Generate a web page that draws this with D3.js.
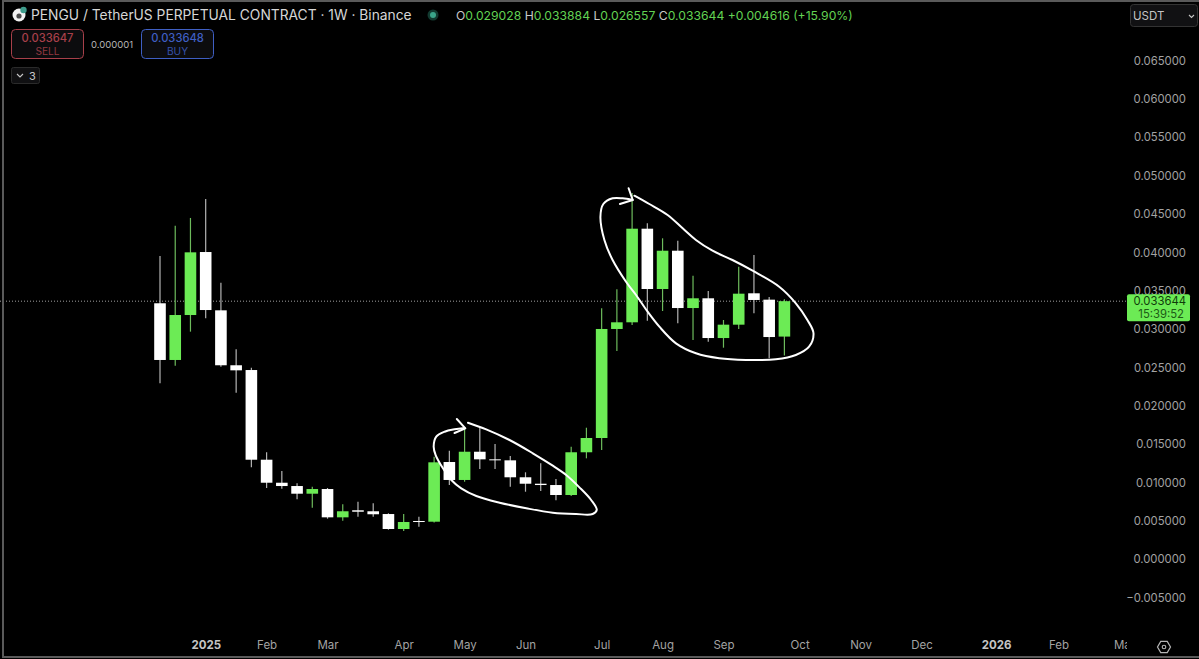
<!DOCTYPE html>
<html>
<head>
<meta charset="utf-8">
<script src="https://cdn.jsdelivr.net/npm/d3@7"></script>
<style>
  html, body { margin: 0; padding: 0; background: #000; overflow: hidden; }
  svg { display: block; font-family: Inter, "Noto Sans", sans-serif; }
</style>
</head>
<body>
<svg id="chart" width="1199" height="659"></svg>
<script>
// weekly candles
const candleOpen = [0.03337, 0.02598, 0.03184, 0.04005, 0.03245, 0.02529, 0.02467, 0.01298, 0.00998, 0.00955, 0.00855,
  0.00916, 0.00547, 0.00639, 0.00626, 0.0059, 0.00395, 0.00499, 0.0049, 0.01268, 0.01034, 0.01402, 0.01303, 0.0129,
  0.01069, 0.00985, 0.00968, 0.00838, 0.01395, 0.01581, 0.03002, 0.03089, 0.04309, 0.03523, 0.04022, 0.03275, 0.03402,
  0.02884, 0.03058, 0.03467, 0.03384, 0.029028];
const candleHigh = [0.03953, 0.04348, 0.04449, 0.04696, 0.03605, 0.02737, 0.02497, 0.01395, 0.01151, 0.00991, 0.00946,
  0.00929, 0.00717, 0.00751, 0.0073, 0.006, 0.0059, 0.00555, 0.01337, 0.01415, 0.01711, 0.01715, 0.01503, 0.01346,
  0.01134, 0.01251, 0.01047, 0.01468, 0.01715, 0.03272, 0.03519, 0.04774, 0.04379, 0.04184, 0.04153, 0.03696, 0.03497,
  0.03119, 0.03814, 0.03966, 0.03419, 0.033884];
const candleLow = [0.02294, 0.02523, 0.02967, 0.03141, 0.0251, 0.02171, 0.01199, 0.00929, 0.0092, 0.00782, 0.00673,
  0.00529, 0.00503, 0.00555, 0.00555, 0.00386, 0.00369, 0.00425, 0.0048, 0.00968, 0.01011, 0.01177, 0.01177, 0.00946,
  0.00881, 0.0089, 0.00769, 0.00825, 0.01316, 0.01425, 0.02715, 0.03054, 0.0311, 0.03236, 0.03076, 0.02858, 0.02836,
  0.02758, 0.03002, 0.03206, 0.0262, 0.026557];
const candleClose = [0.02598, 0.03184, 0.04001, 0.03249, 0.02529, 0.02463, 0.01298, 0.00998, 0.00955, 0.00855, 0.00916,
  0.00547, 0.00626, 0.0062, 0.00587, 0.00395, 0.00486, 0.00486, 0.01264, 0.01034, 0.01402, 0.01303, 0.0129, 0.01069,
  0.00985, 0.00968, 0.00838, 0.01395, 0.01581, 0.03002, 0.03089, 0.04309, 0.03523, 0.04022, 0.03275, 0.03402, 0.02884,
  0.03058, 0.03462, 0.0338, 0.02897, 0.033644];

const priceTicks = [-0.005, 0, 0.005, 0.01, 0.015, 0.02, 0.025, 0.03, 0.035, 0.04, 0.045, 0.05, 0.055, 0.06, 0.065];
const lastPrice = 0.033644;

// x ticks are week numbers counted from the first candle
const timeTickWeeks = [3, 7, 11, 16, 20, 24, 29, 33, 37, 42, 46, 50, 54.9, 59, 63.3];
const timeTickLabels = ["2025", "Feb", "Mar", "Apr", "May", "Jun", "Jul", "Aug", "Sep", "Oct", "Nov", "Dec", "2026", "Feb", "Mar"];

// the two freehand loops, as [week, price]
const smallLoop = [[20.22, 0.0178], [21.42, 0.01694], [22.95, 0.01555], [24.48, 0.01382], [25.79, 0.0122], [26.67, 0.01099],
  [27.54, 0.00938], [28.31, 0.00773], [28.68, 0.00643], [28.41, 0.0059], [27.32, 0.0059], [25.79, 0.00607], [24.05, 0.00665],
  [22.3, 0.00738], [20.77, 0.00825], [19.78, 0.00925], [19.13, 0.01034], [18.58, 0.01186], [18.1, 0.01359], [17.97, 0.01468],
  [18.14, 0.01598], [18.69, 0.01663], [19.34, 0.01694], [20.0, 0.01711]];
const smallArrow = [[19.49, 0.01829], [20.05, 0.01707], [19.34, 0.01646]];
const bigLoop = [[31.15, 0.04739], [32.13, 0.04631], [33.33, 0.04488], [34.32, 0.04314], [35.19, 0.04162], [36.28, 0.04022],
  [37.59, 0.03901], [38.91, 0.03762], [40.66, 0.03553], [41.75, 0.03337], [42.51, 0.03119], [42.91, 0.02946], [42.62, 0.02771],
  [41.75, 0.02663], [40.44, 0.02607], [38.47, 0.02598], [36.72, 0.0262], [35.19, 0.02685], [33.88, 0.02815], [32.79, 0.03032],
  [32.02, 0.03227], [31.26, 0.03445], [30.6, 0.03618], [29.72, 0.03901], [29.18, 0.04162], [28.92, 0.04465], [29.11, 0.04631],
  [29.72, 0.04705], [30.38, 0.04705], [31.04, 0.04683]];
const bigArrow = [[30.77, 0.04836], [31.04, 0.04683], [30.2, 0.04631]];

const green = "#6ceb55";
const axisGrey = "#a3a3a3";

const svg = d3.select("#chart");
const width = 1199, height = 659, plotRight = 1127;

const x = d3.scaleLinear().domain([0, 41]).range([160, 784.4]);
const y = d3.scaleLinear().domain([0, 0.065]).range([559.3, 60.6]);

svg.append("rect").attr("width", width).attr("height", height).attr("fill", "#000");

svg.append("defs").append("clipPath").attr("id", "plotClip")
  .append("rect").attr("x", 0).attr("y", 0).attr("width", plotRight).attr("height", height);

// last price line
svg.append("line")
  .attr("x1", 0).attr("x2", plotRight)
  .attr("y1", y(lastPrice)).attr("y2", y(lastPrice))
  .attr("stroke", "#a0a0a0").attr("stroke-width", 1).attr("stroke-dasharray", "1 2");

// candles
const candles = svg.append("g").selectAll("g")
  .data(candleOpen.map((o, i) => ({ week: i, o: o, h: candleHigh[i], l: candleLow[i], c: candleClose[i] })))
  .enter().append("g");

candles.append("line")
  .attr("x1", (d) => x(d.week)).attr("x2", (d) => x(d.week))
  .attr("y1", (d) => y(d.h)).attr("y2", (d) => y(d.l))
  .attr("stroke", (d) => (d.c >= d.o ? "#6dbb5c" : "#b4b4b4"))
  .attr("stroke-width", 1.2);

const bodyW = 11.6;
candles.append("rect")
  .attr("x", (d) => x(d.week) - bodyW / 2)
  .attr("width", bodyW)
  .attr("y", (d) => y(Math.max(d.o, d.c)))
  .attr("height", (d) => Math.max(1, Math.abs(y(d.o) - y(d.c))))
  .attr("fill", (d) => (d.c >= d.o ? green : "#fff"));

// freehand annotations
const loopLine = d3.line().x((d) => x(d[0])).y((d) => y(d[1])).curve(d3.curveCatmullRom.alpha(0.5));
const arrowLine = d3.line().x((d) => x(d[0])).y((d) => y(d[1]));
[[smallLoop, loopLine], [smallArrow, arrowLine], [bigLoop, loopLine], [bigArrow, arrowLine]].forEach(([pts, gen]) => {
  svg.append("path")
    .attr("d", gen(pts))
    .attr("fill", "none")
    .attr("stroke", "#fff")
    .attr("stroke-width", 2)
    .attr("stroke-linecap", "round")
    .attr("stroke-linejoin", "round");
});

// price axis
const yAxis = d3.axisRight(y)
  .tickValues(priceTicks)
  .tickSize(0)
  .tickPadding(0)
  .tickFormat((d) => (d < 0 ? "\u2212" : "") + Math.abs(d).toFixed(6));
const yG = svg.append("g").attr("transform", "translate(1186,0)").call(yAxis);
yG.select(".domain").remove();
yG.selectAll("text")
  .attr("text-anchor", "end")
  .attr("fill", axisGrey)
  .style("font-size", "11.3px")
  .style("font-family", "Inter, sans-serif");

// time axis
const xAxis = d3.axisBottom(x)
  .tickValues(timeTickWeeks)
  .tickSize(0)
  .tickPadding(0)
  .tickFormat((d, i) => timeTickLabels[i]);
const xG = svg.append("g")
  .attr("clip-path", "url(#plotClip)")
  .append("g")
  .attr("transform", "translate(0,641)")
  .call(xAxis);
xG.select(".domain").remove();
xG.selectAll("text")
  .attr("fill", (d, i) => (/^\d+$/.test(timeTickLabels[i]) ? "#c4c4c4" : axisGrey))
  .attr("font-weight", (d, i) => (/^\d+$/.test(timeTickLabels[i]) ? 700 : 400))
  .style("font-size", "11.5px")
  .style("font-family", "Inter, sans-serif");

// last price tag
svg.append("rect")
  .attr("x", plotRight).attr("y", y(lastPrice) - 7)
  .attr("width", 63).attr("height", 27).attr("rx", 2)
  .attr("fill", green);
svg.append("text").attr("x", 1186).attr("y", y(lastPrice) + 4)
  .attr("text-anchor", "end").attr("fill", "#0f3b0a")
  .style("font-size", "11.3px").text(lastPrice.toFixed(6));
svg.append("text").attr("x", 1184).attr("y", y(lastPrice) + 16.5)
  .attr("text-anchor", "end").attr("fill", "#1d5a15")
  .style("font-size", "11.3px").text("15:39:52");

// header
const logo = svg.append("g").attr("transform", "translate(19,15)");
logo.append("circle").attr("r", 6.5).attr("fill", "#f2f2f2");
logo.append("circle").attr("cx", 4.5).attr("cy", -5).attr("r", 3.2).attr("fill", "#3f9d8c");
logo.append("circle").attr("cx", 0).attr("cy", 1).attr("r", 2.6).attr("fill", "#4a4a4a");

svg.append("text").attr("x", 31).attr("y", 20)
  .attr("fill", "#d6d6d6").style("font-size", "13.8px")
  .text("PENGU / TetherUS PERPETUAL CONTRACT \u00b7 1W \u00b7 Binance");

svg.append("circle").attr("cx", 433).attr("cy", 15).attr("r", 5.5).attr("fill", "#123a30");
svg.append("circle").attr("cx", 433).attr("cy", 15).attr("r", 3).attr("fill", "#3aa58a");

const ohlcText = svg.append("text").attr("x", 456).attr("y", 19.5).style("font-size", "12.2px");
[["O", "#c8c8c8"], ["0.029028", "#62d253"], [" H", "#c8c8c8"], ["0.033884", "#62d253"], [" L", "#c8c8c8"], ["0.026557", "#62d253"],
  [" C", "#c8c8c8"], ["0.033644", "#62d253"], [" +0.004616 (+15.90%)", "#62d253"]].forEach(([t, c]) => {
  ohlcText.append("tspan").attr("fill", c).attr("xml:space", "preserve").text(t);
});

function tradeBox(bx, w, color, price, label) {
  svg.append("rect").attr("x", bx).attr("y", 29.5).attr("width", w).attr("height", 29).attr("rx", 4)
    .attr("fill", "#0c0c0e").attr("stroke", color).attr("stroke-width", 1);
  svg.append("text").attr("x", bx + w / 2).attr("y", 42).attr("text-anchor", "middle")
    .attr("fill", color).style("font-size", "11.2px").style("font-weight", 500).text(price);
  svg.append("text").attr("x", bx + w / 2).attr("y", 54.5).attr("text-anchor", "middle")
    .attr("fill", color).attr("opacity", 0.85).style("font-size", "10.2px").text(label);
}
tradeBox(11.5, 72, "#a8404a", "0.033647", "SELL");
tradeBox(141.5, 72, "#3f5fc4", "0.033648", "BUY");
svg.append("text").attr("x", 112).attr("y", 47.5).attr("text-anchor", "middle")
  .attr("fill", "#b5b5b5").style("font-size", "9.5px").text("0.000001");

// collapse button
svg.append("rect").attr("x", 11.5).attr("y", 67.5).attr("width", 28).attr("height", 16).attr("rx", 2)
  .attr("fill", "#101012").attr("stroke", "#2b2b2b");
svg.append("path").attr("d", "M17 74 l3 3 l3 -3").attr("fill", "none").attr("stroke", "#c8c8c8").attr("stroke-width", 1.1);
svg.append("text").attr("x", 29).attr("y", 80).attr("fill", "#c8c8c8").style("font-size", "11px").text("3");

// currency dropdown
svg.append("rect").attr("x", 1130.5).attr("y", 4.5).attr("width", 67).attr("height", 22).attr("rx", 3)
  .attr("fill", "#111113").attr("stroke", "#333");
svg.append("text").attr("x", 1133).attr("y", 20).attr("fill", "#c4c4c4").style("font-size", "11.5px").text("USDT");
svg.append("path").attr("d", "M1189 15 l2.5 2.5 l2.5 -2.5").attr("fill", "none").attr("stroke", "#c4c4c4").attr("stroke-width", 1.1);

// settings icon
const hexR = 6.5;
const hexPoints = d3.range(6).map((i) => {
  const a = Math.PI / 6 + (i * Math.PI) / 3 + Math.PI / 6;
  return [1164 + hexR * Math.cos(a), 647 + hexR * Math.sin(a)];
});
svg.append("polygon").attr("points", hexPoints.join(" "))
  .attr("fill", "none").attr("stroke", "#b5b5b5").attr("stroke-width", 1.2);
svg.append("circle").attr("cx", 1164).attr("cy", 647).attr("r", 1.8)
  .attr("fill", "none").attr("stroke", "#b5b5b5").attr("stroke-width", 1.1);

// screenshot frame
svg.append("path").attr("d", "M1199 1 H3 V657 H1199")
  .attr("fill", "none").attr("stroke", "#5a5a5a").attr("stroke-width", 2);
</script>
</body>
</html>
